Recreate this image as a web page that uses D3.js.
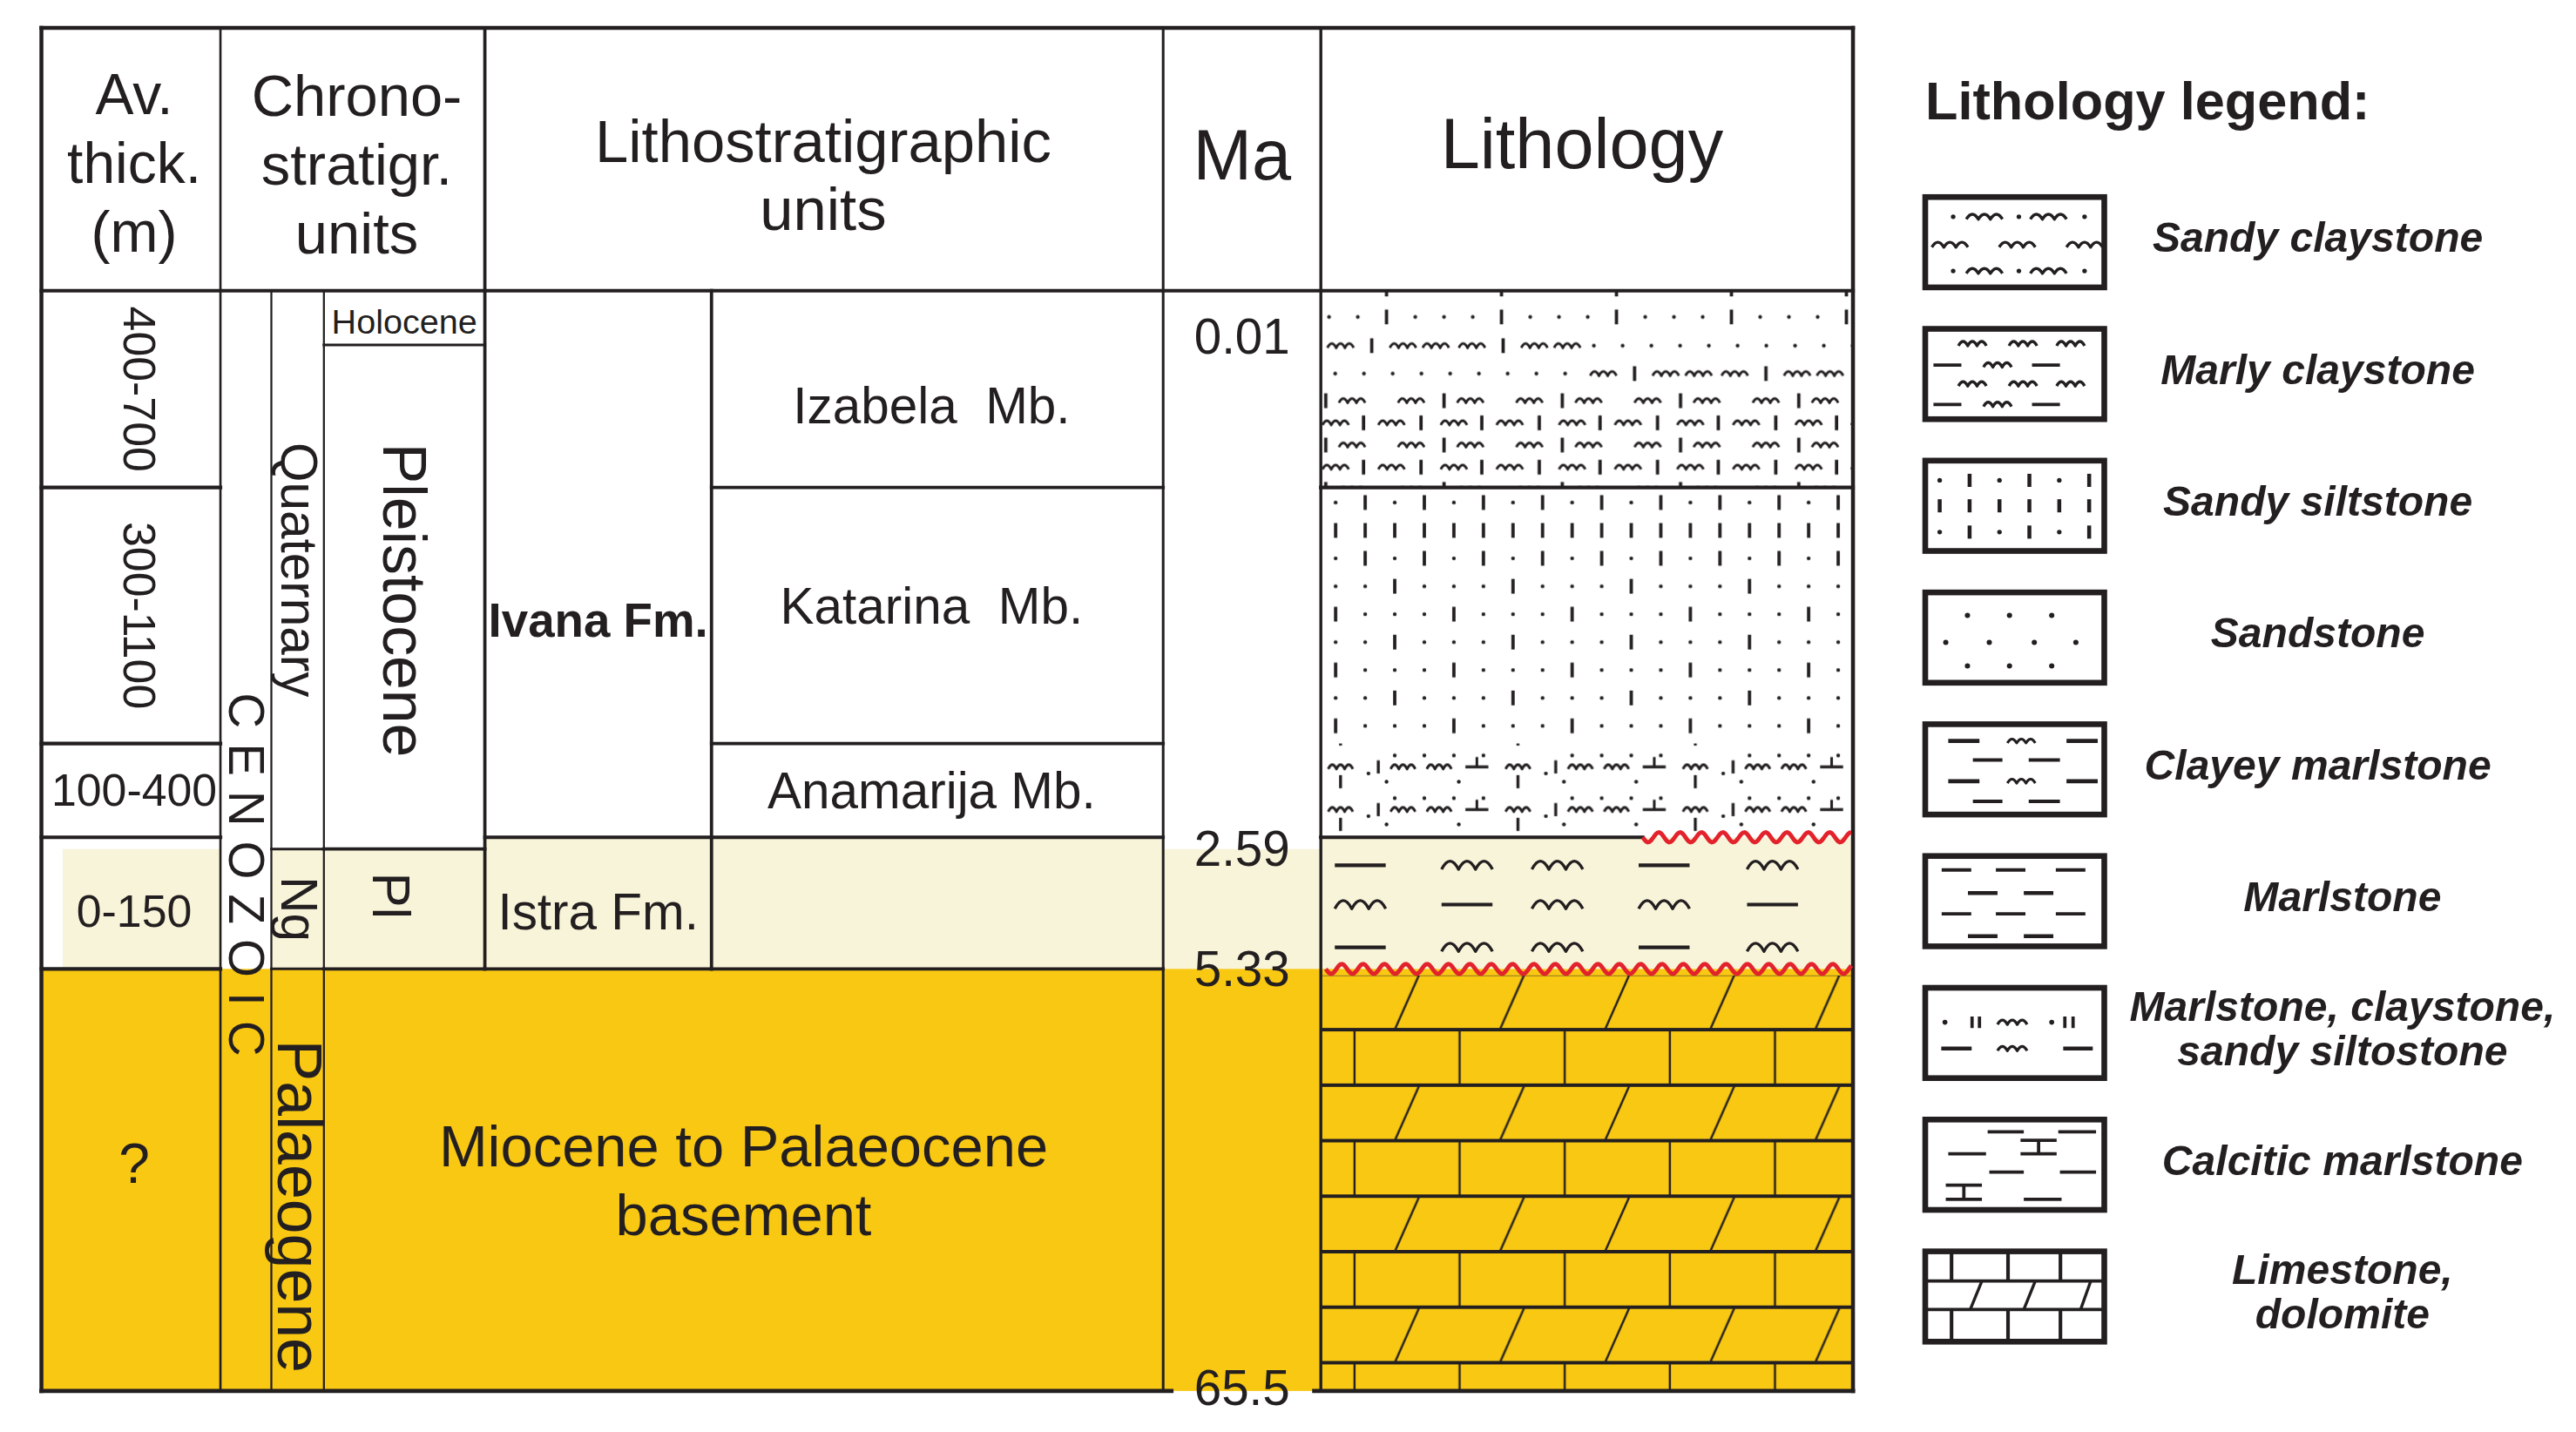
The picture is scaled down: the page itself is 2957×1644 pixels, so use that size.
<!DOCTYPE html>
<html>
<head>
<meta charset="utf-8">
<script src="https://cdn.jsdelivr.net/npm/d3@7"></script>
<style>
  html, body { margin: 0; padding: 0; background: #fff; overflow: hidden; }
  svg { display: block; }
  text { font-family: "Liberation Sans", Arial, sans-serif; fill: #231f20; }
</style>
</head>
<body>
<svg id="chart" width="2957" height="1644" viewBox="0 0 1568 872"></svg>
<script>
// ---- data ----
const maTicks = [0.01, 2.59, 5.33, 65.5];
const maTickLabels = ["0.01", "2.59", "5.33", "65.5"];

const thickLabels = ["400-700", "300-1100", "100-400", "0-150", "?"];
const thickTops = [0, 0.74, 2.05, 2.53, 5.33];
const thickBases = [0.74, 2.05, 2.53, 5.33, 65.5];

const eras = ["CENOZOIC"];
const eraTops = [0];
const eraBases = [65.5];

const periods = ["Quaternary", "Ng", "Palaeogene"];
const periodTops = [0, 2.59, 5.33];
const periodBases = [2.59, 5.33, 65.5];

const epochs = ["Holocene", "Pleistocene", "Pl"];
const epochTops = [0, 0.01, 2.59];
const epochBases = [0.01, 2.59, 5.33];

const formations = ["Ivana Fm.", "Istra Fm."];
const formationTops = [0, 2.53];
const formationBases = [2.53, 5.33];

const members = ["Izabela  Mb.", "Katarina  Mb.", "Anamarija Mb.", ""];
const memberTops = [0, 0.74, 2.05, 2.53];
const memberBases = [0.74, 2.05, 2.53, 5.33];

const basementLabel = ["Miocene to Palaeocene", "basement"];

const lithoUnits = ["sandy claystone", "sandy siltstone", "mixed", "marly claystone", "limestone"];
const lithoTops = [0, 0.74, 2.05, 2.53, 5.33];
const lithoBases = [0.74, 2.05, 2.53, 5.33, 65.5];
const lithoContacts = ["sharp", "gradational", "erosional-partial", "erosional", "base"];

const headerAv = ["Av.", "thick.", "(m)"];
const headerChrono = ["Chrono-", "stratigr.", "units"];
const headerLitho = ["Lithostratigraphic", "units"];
const headerMa = ["Ma"];
const headerLithology = ["Lithology"];

const legendTitle = "Lithology legend:";
const legendItems = [
  ["Sandy claystone"], ["Marly claystone"], ["Sandy siltstone"], ["Sandstone"],
  ["Clayey marlstone"], ["Marlstone"], ["Marlstone, claystone,", "sandy siltostone"],
  ["Calcitic marlstone"], ["Limestone,", "dolomite"]
];

// ---- layout ----
const INK = "#231f20", ORANGE = "#f9c813", CREAM = "#f8f4d9", RED = "#e3232c";
const x = { left: 25, era: 134, period: 165, epoch: 197, fm: 295, mb: 433, ma: 708, lith: 804, right: 1128 };
const yTop = 17, yHead = 177, yBot = 847;

const svg = d3.select("#chart");
const defs = svg.append("defs");

// age axis of the column (not linear: drawn panels)
const y = d3.scaleLinear().domain([0, 0.01, 2.59, 5.33, 65.5]).range([yHead, 210, 517, 590, yBot]);
const mid = (a, b) => (y(a) + y(b)) / 2;

// ---- little lithology symbols ----
function dot(g, cx, cy, r = 1.15) {
  g.append("circle").attr("cx", cx).attr("cy", cy).attr("r", r).attr("fill", INK);
}
function tick(g, cx, cy, h = 9, sw = 2) {
  g.append("line").attr("x1", cx).attr("x2", cx).attr("y1", cy - h / 2).attr("y2", cy + h / 2)
    .attr("stroke", INK).attr("stroke-width", sw);
}
function dash(g, cx, cy, w = 18, sw = 2) {
  g.append("line").attr("x1", cx - w / 2).attr("x2", cx + w / 2).attr("y1", cy).attr("y2", cy)
    .attr("stroke", INK).attr("stroke-width", sw);
}
function wave(g, cx, cy, w = 16, a = 2.6, sw = 1.6) {
  const s = w / 3;
  let d = `M${cx - w / 2},${cy + a / 2}`;
  for (let i = 0; i < 3; i++) d += ` q${s / 2},${-2 * a} ${s},0`;
  g.append("path").attr("d", d).attr("fill", "none").attr("stroke", INK)
    .attr("stroke-width", sw).attr("stroke-linejoin", "round");
}
function anchorT(g, cx, cy, w = 14) { // dash with a small tick on top
  dash(g, cx, cy, w, 1.8);
  tick(g, cx, cy - 3, 6, 1.6);
}

function makePattern(id, w, h, px, py, draw) {
  const p = defs.append("pattern").attr("id", id).attr("patternUnits", "userSpaceOnUse")
    .attr("x", px).attr("y", py).attr("width", w).attr("height", h);
  draw(p);
}

makePattern("pDotTick", 70, 17, x.lith, 184.5, p => {
  dot(p, 5, 8.5); dot(p, 22.5, 8.5); tick(p, 40, 8.5); dot(p, 57.5, 8.5);
});
makePattern("pDotRow", 17.5, 17, x.lith, 202, p => dot(p, 8.75, 8.5));
makePattern("pWaveRow", 80, 17, x.lith, 202, p => {
  wave(p, 12, 8.5); tick(p, 31, 8.5); wave(p, 50, 8.5); wave(p, 70, 8.5);
});
makePattern("pWaveTick", 72, 27, x.lith, 237, p => {
  tick(p, 3, 7); wave(p, 19, 7); wave(p, 55, 7);
  wave(p, 9, 20.5); tick(p, 26, 20.5); wave(p, 43, 20.5); tick(p, 61, 20.5);
});
makePattern("pSilt", 36, 51, x.lith, 297.5, p => {
  dot(p, 9, 8.5); tick(p, 27, 8.5);
  tick(p, 9, 25.5); tick(p, 27, 25.5);
  dot(p, 9, 42.5); tick(p, 27, 42.5);
});
makePattern("pSandTick", 72, 34, x.lith, 350, p => {
  dot(p, 9, 7); dot(p, 27, 7); tick(p, 45, 7); dot(p, 63, 7);
  tick(p, 9, 24); dot(p, 27, 24); dot(p, 45, 24); dot(p, 63, 24);
});
makePattern("pMixed", 108, 26, x.lith, 456, p => {
  dot(p, 45, 4); dot(p, 63, 4); dot(p, 81, 4); dot(p, 99, 4);
  wave(p, 12, 11, 15); dot(p, 29, 15); tick(p, 35, 11, 8, 1.8); wave(p, 50, 11, 15);
  wave(p, 72, 11, 15); anchorT(p, 95, 11);
  tick(p, 12, 20, 8, 1.8); dot(p, 40, 20); dot(p, 84, 20);
});
makePattern("pLime", 64, 67.6, 814.5, 576.3, p => {
  [16.9, 50.7].forEach(v => p.append("line").attr("x1", 0).attr("x2", 64).attr("y1", v).attr("y2", v)
    .attr("stroke", INK).attr("stroke-width", 2.2));
  p.append("line").attr("x1", 10).attr("x2", 10).attr("y1", 0).attr("y2", 16.9).attr("stroke", INK).attr("stroke-width", 1.3);
  p.append("line").attr("x1", 10).attr("x2", 10).attr("y1", 50.7).attr("y2", 67.6).attr("stroke", INK).attr("stroke-width", 1.3);
  p.append("line").attr("x1", 34.5).attr("x2", 49.5).attr("y1", 50.7).attr("y2", 16.9).attr("stroke", INK).attr("stroke-width", 1.3);
});

// ---- background fills ----
const bg = svg.append("g");
const creamCols = [[38, x.era, 2.59], [x.period, x.fm, 2.59], [x.fm, x.ma, 2.53], [x.ma, x.lith, 2.59], [x.lith, x.right, 2.53]];
creamCols.forEach(([a, b, t]) => {
  bg.append("rect").attr("x", a).attr("y", y(t)).attr("width", b - a).attr("height", y(5.33) - y(t)).attr("fill", CREAM);
});
bg.append("rect").attr("x", x.left).attr("y", y(5.33)).attr("width", x.right - x.left)
  .attr("height", y(65.5) - y(5.33)).attr("fill", ORANGE);

// ---- lithology column ----
defs.append("clipPath").attr("id", "lithClip").append("rect")
  .attr("x", x.lith).attr("y", yHead).attr("width", x.right - x.lith).attr("height", yBot - yHead);
const lith = svg.append("g").attr("clip-path", "url(#lithClip)");
function band(id, y0, y1, x0 = x.lith, x1 = x.right) {
  lith.append("rect").attr("x", x0).attr("y", y0).attr("width", x1 - x0).attr("height", y1 - y0)
    .attr("fill", `url(#${id})`);
}
const half = (x.lith + x.right) / 2;
lithoUnits.forEach((u, i) => {
  const t = y(lithoTops[i]), b = y(lithoBases[i]);
  if (u === "sandy claystone") {
    band("pDotTick", t, t + 25);
    band("pWaveRow", t + 25, t + 42, x.lith, half); band("pDotRow", t + 25, t + 42, half, x.right);
    band("pDotRow", t + 42, t + 59, x.lith, half); band("pWaveRow", t + 42, t + 59, half, x.right);
    band("pWaveTick", t + 59, b);
  } else if (u === "sandy siltstone") {
    band("pSilt", t, t + 53);
    band("pSandTick", t + 53, b);
  } else if (u === "mixed") {
    band("pMixed", t, b);
  } else if (u === "marly claystone") {
    const g = lith.append("g");
    const rows = [["d", "w", "w", "d", "w"], ["w", "d", "w", "w", "d"], ["d", "w", "w", "d", "w"]];
    const cols = [24, 89, 144, 209, 275];
    const offs = [17, 41, 67];
    rows.forEach((r, ri) => r.forEach((s, ci) => {
      if (s === "d") dash(g, x.lith + cols[ci], t + offs[ri], 31, 2.2);
      else wave(g, x.lith + cols[ci], t + offs[ri], 31, 5, 1.8);
    }));
  } else if (u === "limestone") {
    band("pLime", t + 4, b);
  }
});

// ---- frame lines ----
const frame = svg.append("g").attr("stroke", INK).attr("stroke-linecap", "square");
function seg(x1, y1, x2, y2, w) {
  frame.append("line").attr("x1", x1).attr("y1", y1).attr("x2", x2).attr("y2", y2).attr("stroke-width", w);
}
seg(x.left, yTop, x.left, yBot, 2.4);
seg(x.era, yTop, x.era, yBot, 1.4);
seg(x.period, yHead, x.period, yBot, 1.2);
seg(x.epoch, yHead, x.epoch, yBot, 1.2);
seg(x.fm, yTop, x.fm, y(5.33), 2);
seg(x.mb, yHead, x.mb, y(5.33), 2);
seg(x.ma, yTop, x.ma, yBot, 1.6);
seg(x.lith, yTop, x.lith, yBot, 1.8);
seg(x.right, yTop, x.right, yBot, 2.4);

seg(x.left, yTop, x.right, yTop, 2.4);
seg(x.left, yHead, x.right, yHead, 2.2);
seg(x.left, yBot, 713, yBot, 2.6);
seg(800, yBot, x.right, yBot, 2.6);
thickBases.slice(0, -1).forEach(b => seg(x.left, y(b), x.era, y(b), 2.2));
periodBases.slice(0, -1).forEach(b => seg(x.period, y(b), x.epoch, y(b), 1.6));
epochBases.forEach(b => seg(x.epoch, y(b), x.fm, y(b), b < 0.1 ? 1.6 : 2));
formationBases.forEach(b => seg(x.fm, y(b), x.mb, y(b), 2));
memberBases.forEach(b => seg(x.mb, y(b), x.ma, y(b), 2));

// lithology contacts
const redWave = (x0, x1, yy) => {
  const pts = d3.range(x0, x1 + 0.5, 1).map(v => [v, yy + 3 * Math.sin((v - x0) / 13 * 2 * Math.PI)]);
  svg.append("path").attr("d", d3.line()(pts)).attr("fill", "none").attr("stroke", RED).attr("stroke-width", 2.6);
};
lithoContacts.forEach((c, i) => {
  const b = y(lithoBases[i]);
  if (c === "sharp") seg(x.lith, b, x.right, b, 2.2);
  if (c === "erosional-partial") { seg(x.lith, b, 1000, b, 2.2); redWave(1000, x.right - 1, b); }
  if (c === "erosional") redWave(x.lith + 3, x.right - 1, b);
});

// ---- text ----
const txt = svg.append("g");
function stack(lines, cx, firstBase, lh, size, weight = "normal") {
  txt.append("text").attr("x", cx).attr("y", firstBase).attr("font-size", size)
    .attr("font-weight", weight).attr("text-anchor", "middle")
    .selectAll("tspan").data(lines).join("tspan")
    .attr("x", cx).attr("dy", (d, i) => i ? lh : 0).text(d => d);
}
function label(t, cx, cy, size, opts = {}) {
  const el = txt.append("text")
    .attr("transform", `translate(${cx},${cy})${opts.rotate ? " rotate(90)" : ""}`)
    .attr("text-anchor", "middle").attr("dominant-baseline", "central")
    .attr("font-size", size).attr("font-weight", opts.weight || "normal").text(t);
  if (opts.spacing) el.attr("letter-spacing", opts.spacing);
  return el;
}

stack(headerAv, 81.5, 69.5, 42, 35);
stack(headerChrono, 217, 70.5, 42, 35.5);
stack(headerLitho, 501, 98.5, 41.5, 36.5);
stack(headerMa, 756, 109.5, 0, 43);
stack(headerLithology, 963, 102.5, 0, 43);

thickLabels.forEach((t, i) => {
  const h = y(thickBases[i]) - y(thickTops[i]);
  const rot = h > 100 && t.length > 1;
  const cy = mid(thickTops[i], thickBases[i]) + (t === "0-150" ? 5 : t === "?" ? -10 : 0);
  label(t, (x.left + x.era) / 2 + (rot ? 5 : 2), cy, t === "?" ? 34 : 27.5, { rotate: rot });
});

// CENOZOIC sits a little below the middle of its column, as drawn
eras.forEach((t, i) => label(t, (x.era + x.period) / 2, mid(eraTops[i], eraBases[i]) + 25, 30, { rotate: true, spacing: 9 }));
periods.forEach((t, i) => {
  const p = t === "Palaeogene";
  label(t, (x.period + x.epoch) / 2 + 1, mid(periodTops[i], periodBases[i]) + (p ? 16 : 0), p ? 38 : 31, { rotate: true });
});
epochs.forEach((t, i) => {
  const cy = mid(epochTops[i], epochBases[i]);
  if (t === "Holocene") label(t, (x.epoch + x.fm) / 2, cy + 2, 21);
  else label(t, (x.epoch + x.fm) / 2 - (t === "Pl" ? 8 : 0), cy + (t === "Pl" ? -8 : 2), t === "Pl" ? 32 : 37, { rotate: true });
});

formations.forEach((t, i) => {
  // Ivana label sits level with its middle member
  const cy = i === 0 ? mid(memberTops[1], memberBases[1]) + 3 : mid(formationTops[i], formationBases[i]) + 5;
  label(t, (x.fm + x.mb) / 2, cy, i === 0 ? 29 : 31, { weight: i === 0 ? "bold" : "normal" });
});
members.forEach((t, i) => {
  if (t) label(t, 567, mid(memberTops[i], memberBases[i]) + (i === 0 ? 10 : -6 * (i === 1)), 31).style("white-space", "pre");
});

basementLabel.forEach((t, i) => label(t, (x.epoch + x.ma) / 2, mid(5.33, 65.5) - 21 + 42 * i, 35.5));

maTicks.forEach((m, i) => label(maTickLabels[i], (x.ma + x.lith) / 2, y(m) - (i === 0 ? 5 : i === 3 ? 2 : 0), 30));

// ---- legend ----
const leg = svg.append("g");
leg.append("text").attr("x", 1172).attr("y", 72.5).attr("font-size", 32.5).attr("font-weight", "bold").text(legendTitle);

const boxX = 1172, boxW = 109, boxH = 55;
const ly = d3.scalePoint().domain(d3.range(legendItems.length)).range([120, 762]);

const legendDraw = [
  g => { // sandy claystone
    [12, 45].forEach(v => { dot(g, 17, v, 1.4); wave(g, 36, v, 22, 3, 1.8); dot(g, 57, v, 1.4); wave(g, 75, v, 22, 3, 1.8); dot(g, 97, v, 1.4); });
    [15, 56, 97].forEach(c => wave(g, c, 29, 22, 3, 1.8));
  },
  g => { // marly claystone
    [9, 33.5].forEach(v => [28.7, 59.5, 88.5].forEach(c => wave(g, c, v, 17, 2.6, 1.8)));
    [22, 46].forEach(v => { dash(g, 13.5, v, 17, 2); wave(g, 44, v, 17, 2.6, 1.8); dash(g, 73.5, v, 17, 2); });
  },
  g => { // sandy siltstone
    [12, 27.5, 43.5].forEach((v, r) => d3.range(6).forEach(k => {
      const cx = 8.8 + k * 18.2;
      if (r === 1 || k % 2 === 1) tick(g, cx, v, 8, 2.4); else dot(g, cx, v, 1.4);
    }));
  },
  g => { // sandstone
    [14, 44.7].forEach(v => [25.7, 51.3, 77].forEach(c => dot(g, c, v, 1.6)));
    [12.5, 39, 66.4, 91.7].forEach(c => dot(g, c, 30.4, 1.6));
  },
  g => { // clayey marlstone
    [10.2, 34.7].forEach(v => { dash(g, 23.5, v, 19, 2.6); wave(g, 58.5, v, 17, 2.4, 1.6); dash(g, 95.5, v, 19, 2.6); });
    [21.8, 47].forEach(v => { dash(g, 38, v, 18, 2.2); dash(g, 72.5, v, 19, 2.2); });
  },
  g => { // marlstone
    [8.5, 35.2].forEach(v => [19, 52, 88.5].forEach(c => dash(g, c, v, 18, 2)));
    [22.5, 48.8].forEach(v => [35, 69].forEach(c => dash(g, c, v, 18, 2.4)));
  },
  g => { // marlstone, claystone, sandy siltstone
    dot(g, 12, 21, 1.5); tick(g, 28.5, 21, 7, 2); tick(g, 33, 21, 7, 2);
    wave(g, 53, 21, 18, 2.6, 1.8); dot(g, 77, 21, 1.5); tick(g, 85, 21, 7, 2); tick(g, 90, 21, 7, 2);
    dash(g, 19, 37, 18.5, 2.4); wave(g, 53, 37, 18, 2.6, 1.8); dash(g, 93, 37, 18, 2.4);
  },
  g => { // calcitic marlstone
    dash(g, 49, 7.4, 22, 2); dash(g, 92.5, 7.4, 23, 2);
    dash(g, 69, 12.6, 22, 2); dash(g, 69, 20.8, 22, 2);
    g.append("line").attr("x1", 69).attr("x2", 69).attr("y1", 12.6).attr("y2", 20.8).attr("stroke", INK).attr("stroke-width", 2);
    dash(g, 25.5, 20.8, 23, 2);
    dash(g, 49.5, 32, 21, 2); dash(g, 93, 32, 22, 2);
    dash(g, 23.5, 40, 22, 2); dash(g, 23.5, 48.6, 22, 2);
    g.append("line").attr("x1", 23.5).attr("x2", 23.5).attr("y1", 40).attr("y2", 48.6).attr("stroke", INK).attr("stroke-width", 2);
    dash(g, 71.5, 48.6, 23, 2);
  },
  g => { // limestone, dolomite
    [18, 35.4].forEach(v => g.append("line").attr("x1", 0).attr("x2", boxW).attr("y1", v).attr("y2", v).attr("stroke", INK).attr("stroke-width", 2));
    [16, 50.4, 82.3].forEach(c => {
      g.append("line").attr("x1", c).attr("x2", c).attr("y1", 0).attr("y2", 18).attr("stroke", INK).attr("stroke-width", 2.2);
      g.append("line").attr("x1", c).attr("x2", c).attr("y1", 35.4).attr("y2", boxH).attr("stroke", INK).attr("stroke-width", 2.2);
    });
    [[27.4, 34.5], [60, 67], [94.6, 100.8]].forEach(([a, b]) =>
      g.append("line").attr("x1", a).attr("x2", b).attr("y1", 35.4).attr("y2", 18).attr("stroke", INK).attr("stroke-width", 1.8));
  }
];

legendItems.forEach((lines, i) => {
  const t = ly(i);
  const g = leg.append("g").attr("transform", `translate(${boxX},${t})`);
  g.append("rect").attr("width", boxW).attr("height", boxH).attr("fill", "#fff");
  legendDraw[i](g);
  g.append("rect").attr("width", boxW).attr("height", boxH).attr("fill", "none")
    .attr("stroke", INK).attr("stroke-width", 3.5);
  const cy = t + boxH / 2 - 3;
  const lh = 27;
  const cx = i < 5 ? 1411 : 1426;
  lines.forEach((l, k) => {
    leg.append("text").attr("x", cx).attr("y", cy + (k - (lines.length - 1) / 2) * lh)
      .attr("text-anchor", "middle").attr("dominant-baseline", "central")
      .attr("font-size", 25.5).attr("font-weight", "bold").attr("font-style", "italic").text(l);
  });
});
</script>
</body>
</html>
